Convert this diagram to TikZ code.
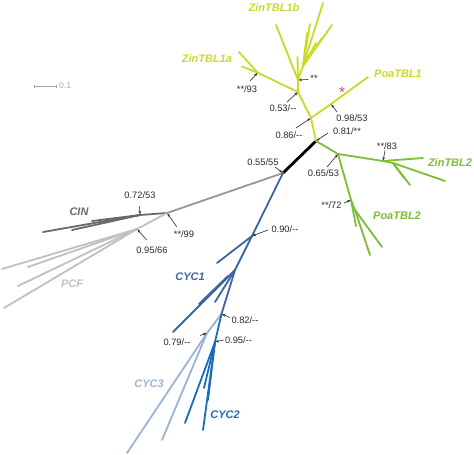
\documentclass[tikz,border=0pt]{standalone}
\usepackage{fontspec}
\setmainfont{Liberation Sans}
\usetikzlibrary{arrows.meta,calc}
\definecolor{yel}{RGB}{202,218,38}
\definecolor{grn}{RGB}{125,190,55}
\definecolor{stemgray}{RGB}{150,150,150}
\definecolor{cin}{RGB}{105,105,105}
\definecolor{pcf}{RGB}{192,192,192}
\definecolor{cycone}{RGB}{60,100,160}
\definecolor{cyctwo}{RGB}{25,110,185}
\definecolor{cycthree}{RGB}{155,178,215}
\definecolor{lab}{RGB}{40,40,40}
\definecolor{starred}{RGB}{220,60,90}
\begin{document}
\begin{tikzpicture}[x=1pt,y=-1pt,
  br/.style={line width=1.8pt,line cap=round},
  ptr/.style={-{Stealth[length=3.5pt,width=2.6pt]},line width=0.6pt,lab,shorten >=0.5pt},
  bs/.style={font=\fontsize{9.3}{10}\selectfont,text=lab,inner sep=0pt},
  clade/.style={font=\fontsize{11}{12}\selectfont\bfseries\itshape,inner sep=0pt}]
\useasboundingbox (0,0) rectangle (474,455);
% ---- coordinates ----
\coordinate (R1) at (283,173);
\coordinate (R2) at (316,141);
\coordinate (Y86) at (311,118);
\coordinate (Y53) at (298,92);
\coordinate (Y93) at (257.7,72.7);
\coordinate (Ys) at (298,80);
\coordinate (Yb) at (303,66);
\coordinate (Y98) at (331,104);
\coordinate (G65) at (338,154);
\coordinate (G83) at (383,161);
\coordinate (Gb) at (393,163);
\coordinate (G72) at (351,200);
\coordinate (Gp) at (355,210);
\coordinate (N99) at (167,213);
\coordinate (C72) at (140,215);
\coordinate (P95) at (137,229);
\coordinate (B90) at (252,236);
\coordinate (B2) at (235,270);
\coordinate (B82) at (221.5,314);
\coordinate (B79) at (207,333);
\coordinate (B95) at (215,342);
% ---- branches ----
\draw[br,line width=2.8pt] (R1) -- (R2);
% yellow
\draw[br,yel] (R2) -- (Y86) -- (Y53) -- (Ys) -- (297.5,57);
\draw[br,yel] (Y86) -- (Y98) -- (368,77);
\draw[br,yel] (Y53) -- (Y93) -- (239,52);
\draw[br,yel] (Y93) -- (242,66.5);
\draw[br,yel] (Ys) -- (276,25);
\draw[br,yel] (Ys) -- (Yb) -- (323,3);
\draw[br,yel] (Yb) -- (332,25);
\draw[br,yel] (Yb) -- (310,24);
\draw[br,yel] (Yb) -- (307,33);
\draw[br,yel] (Yb) -- (322,38);
\draw[br,yel] (Yb) -- (316,43);
% green
\draw[br,grn] (R2) -- (G65) -- (G83) -- (423,158);
\draw[br,grn] (G83) -- (Gb) -- (445,181);
\draw[br,grn] (Gb) -- (410,185);
\draw[br,grn] (Gb) -- (404,178);
\draw[br,grn] (G65) -- (G72) -- (356,226);
\draw[br,grn] (G72) -- (Gp) -- (370,255);
\draw[br,grn] (Gp) -- (382,247);
% gray
\draw[br,stemgray] (R1) -- (N99);
\draw[br,cin] (N99) -- (C72) -- (43,232);
\draw[br,cin] (C72) -- (92,221);
\draw[br,cin] (C72) -- (72,230);
\draw[br,pcf] (N99) -- (P95) -- (2,269);
\draw[br,pcf] (P95) -- (28,267);
\draw[br,pcf] (P95) -- (18,286);
\draw[br,pcf] (P95) -- (4,308);
% blue
\draw[br,cycone] (R1) -- (B90) -- (B2) -- (B82);
\draw[br,cycone] (B90) -- (217,263);
\draw[br,cycone] (B2) -- (173,332);
\draw[br,cycone] (B2) -- (215,302);
\draw[br,cycone] (228,276) -- (199,304);
\draw[br,cycthree] (B82) -- (B79) -- (127,453);
\draw[br,cycthree] (B79) -- (162,440);
\draw[br,cyctwo] (B82) -- (B95) -- (185,423);
\draw[br,cyctwo] (B95) -- (203,430);
\draw[br,cyctwo] (B95) -- (204,388);
\draw[br,cyctwo] (B95) -- (208,400);
% ---- support labels ----
\node[bs] (l93) at (247,89) {**/93};
\node[bs] (lss) at (314,78) {**};
\node[bs] (l53) at (283,108) {0.53/-{}-};
\node[bs] (l86) at (289,135) {0.86/-{}-};
\node[bs] (l98) at (352,118.5) {0.98/53};
\node[bs] (l81) at (347,131.5) {0.81/**};
\node[bs] (l55) at (263,162) {0.55/55};
\node[bs] (l83) at (387,146) {**/83};
\node[bs] (l65) at (323.5,173.5) {0.65/53};
\node[bs] (l72) at (331.5,205) {**/72};
\node[bs] (l7253) at (140,195) {0.72/53};
\node[bs] (l99) at (184,234) {**/99};
\node[bs] (l9566) at (152,250) {0.95/66};
\node[bs] (l90) at (285,229.5) {0.90/-{}-};
\node[bs] (l82) at (245,320.5) {0.82/-{}-};
\node[bs] (l79) at (177,342.5) {0.79/-{}-};
\node[bs] (l95) at (238.5,340) {0.95/-{}-};
% arrow starts
\coordinate (a93) at (250,81);
\coordinate (ass) at (308,79.5);
\coordinate (a53) at (287,102);
\coordinate (a86) at (296,128);
\coordinate (a98) at (337,112);
\coordinate (a81) at (328,133);
\coordinate (a55) at (275,167);
\coordinate (a83) at (385,150.5);
\coordinate (a65) at (327,167);
\coordinate (a72) at (344,203);
\coordinate (a7253) at (139.5,206.5);
\coordinate (a99) at (176.7,226.7);
\coordinate (a9566) at (146.7,240);
\coordinate (a90) at (268,230);
\coordinate (a82) at (230,317.5);
\coordinate (a79) at (200,335.5);
\coordinate (a95) at (223.5,340);
\draw[ptr] (a93) -- (Y93);
\draw[ptr] (ass) -- (Ys);
\draw[ptr] (a53) -- (Y53);
\draw[ptr] (a86) -- (Y86);
\draw[ptr] (a98) -- (Y98);
\draw[ptr] (a81) -- (R2);
\draw[ptr] (a55) -- (R1);
\draw[ptr] (a83) -- (G83);
\draw[ptr] (a65) -- (G65);
\draw[ptr] (a72) -- (G72);
\draw[ptr] (a7253) -- (C72);
\draw[ptr] (a99) -- (N99);
\draw[ptr] (a9566) -- (P95);
\draw[ptr] (a90) -- (B90);
\draw[ptr] (a82) -- (B82);
\draw[ptr] (a79) -- (B79);
\draw[ptr] (a95) -- (B95);
% ---- clade labels ----
\node[clade,yel] (t1b) at (274,8) {ZinTBL1b};
\node[clade,yel] (t1a) at (207,59) {ZinTBL1a};
\node[clade,yel] (tp1) at (398,74) {PoaTBL1};
\node[clade,grn] (tz2) at (450,163) {ZinTBL2};
\node[clade,grn] (tp2) at (397,216) {PoaTBL2};
\node[clade,cin] (tcin) at (79,212) {CIN};
\node[clade,pcf] (tpcf) at (72,284) {PCF};
\node[clade,cycone] (tc1) at (190,277) {CYC1};
\node[clade,cycthree] (tc3) at (149,384) {CYC3};
\node[clade,cyctwo] (tc2) at (225,415) {CYC2};
\node[font=\fontsize{15}{15}\selectfont,text=starred,inner sep=0pt] (star) at (342,92) {*};
% ---- scale bar ----
\coordinate (sb1) at (34.5,86);
\coordinate (sb2) at (56.5,86);
\draw[gray!70,line width=0.6pt] (sb1) -- (sb2);
\draw[gray!70,line width=0.6pt] ($(sb1)+(0,-1.5)$) -- ($(sb1)+(0,1.5)$);
\draw[gray!70,line width=0.6pt] ($(sb2)+(0,-1.5)$) -- ($(sb2)+(0,1.5)$);
\node[font=\fontsize{8.5}{9}\selectfont,text=gray!70,inner sep=0pt,anchor=west] (sbl) at (59,86) {0.1};
\end{tikzpicture}
\end{document}
